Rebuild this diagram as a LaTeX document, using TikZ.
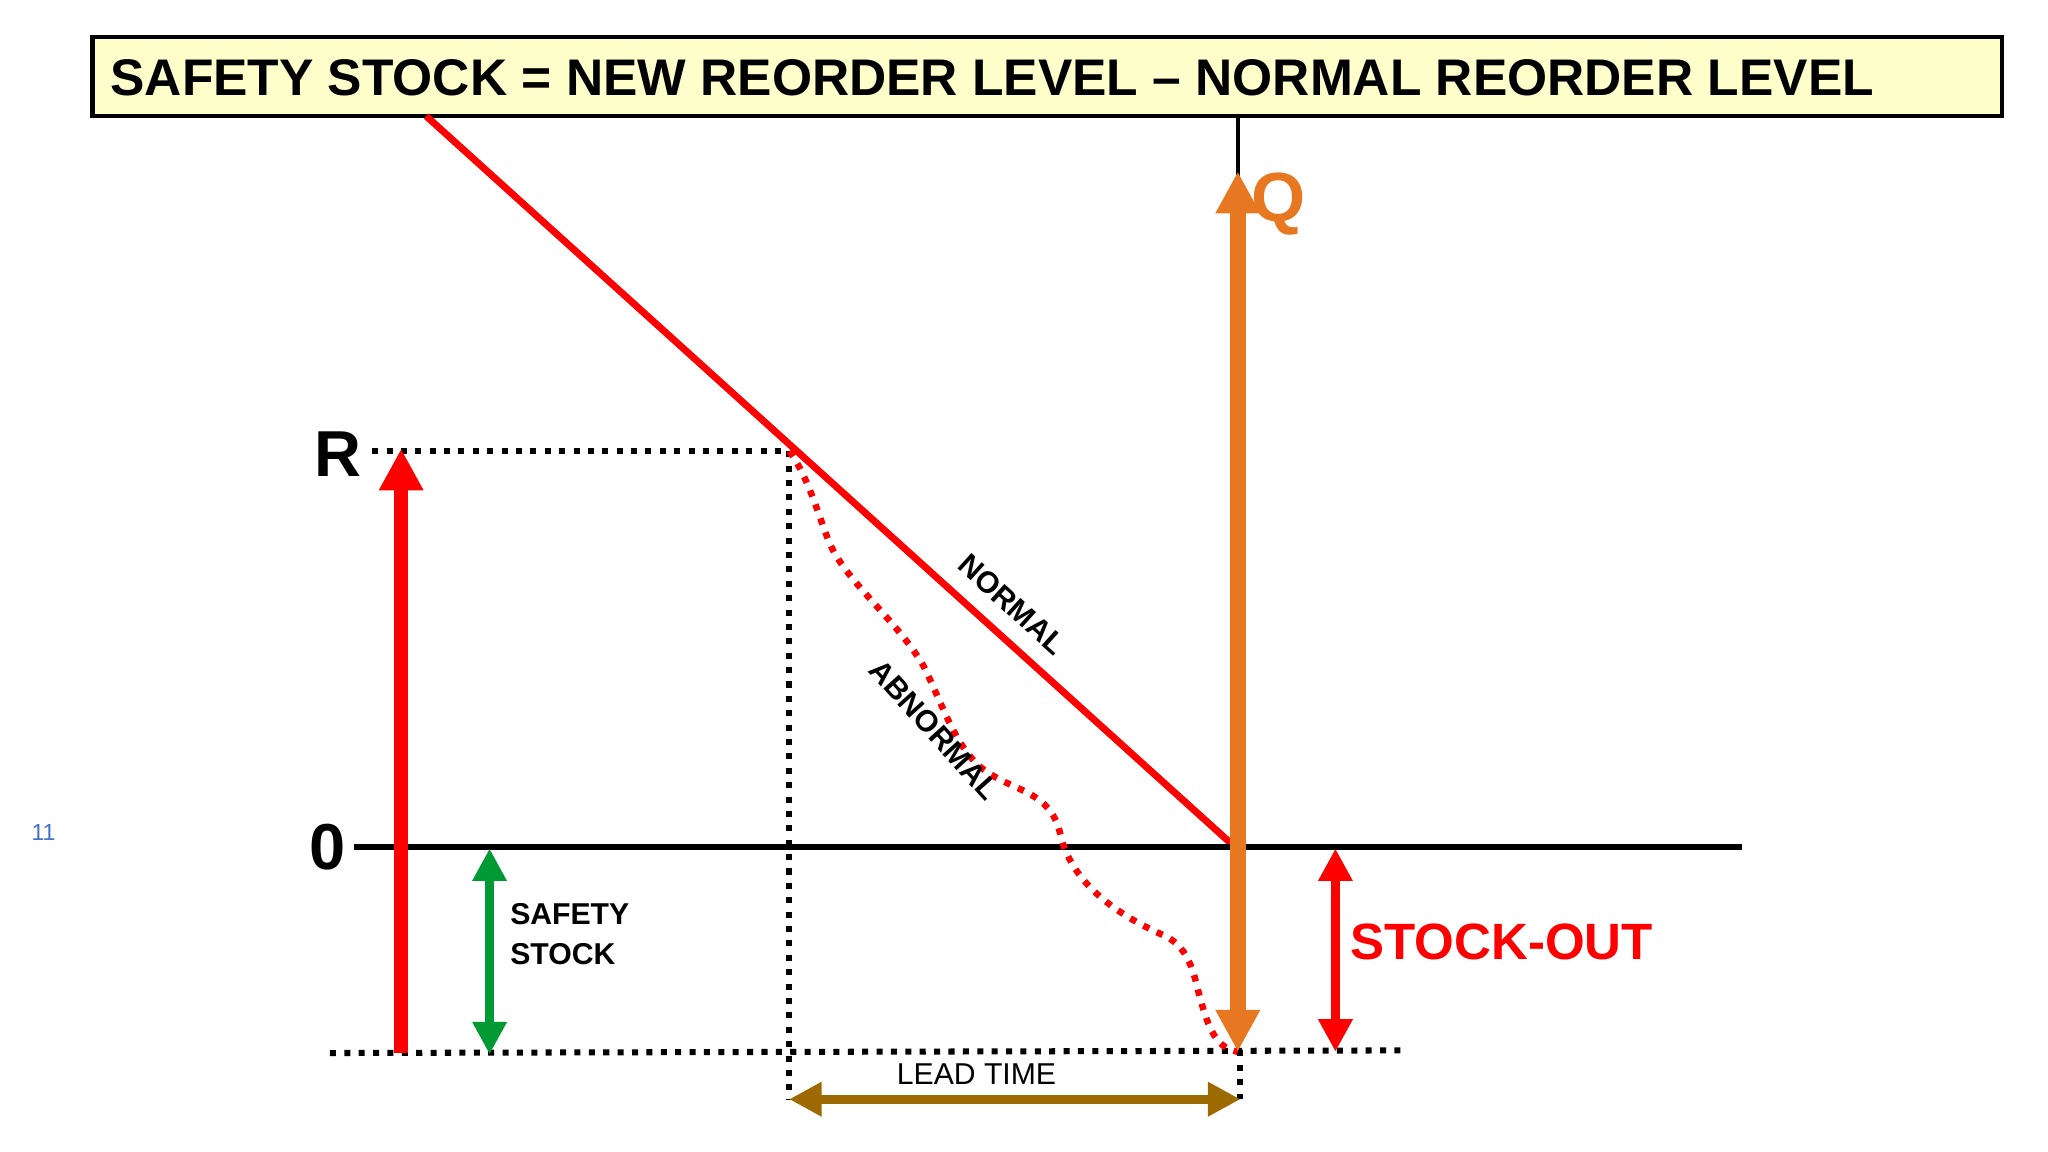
\documentclass[tikz,border=0pt]{standalone}
\usepackage{fontspec}
\setmainfont{Liberation Sans}
\usetikzlibrary{arrows.meta}
\definecolor{titlebg}{HTML}{FFFFCC}
\definecolor{qorange}{HTML}{E87722}
\definecolor{sred}{HTML}{FF0000}
\definecolor{sgreen}{HTML}{009933}
\definecolor{lbrown}{HTML}{9C6A00}
\definecolor{pgblue}{HTML}{4472C4}
\tikzset{
  dots/.style={black,line width=1.3pt,dash pattern=on 1.3pt off 1.8pt},
  smallarr/.style={line width=2pt,{Triangle[length=7pt,width=7pt]}-{Triangle[length=7pt,width=7pt]}},
}
\begin{document}
\begin{tikzpicture}[x=0.01cm,y=-0.01cm]
\useasboundingbox (0,0) rectangle (1552,873);
% title
\draw[line width=1pt,fill=titlebg] (70,28) rectangle (1517,88);
\node[anchor=west,font=\bfseries\fontsize{11.1}{13}\selectfont,inner sep=0] (tt) at (83,59) {SAFETY STOCK = NEW REORDER LEVEL – NORMAL REORDER LEVEL};
% coordinates
\coordinate (ls) at (323,88);
\coordinate (le) at (936,642);
\coordinate (rp) at (598,342);
\coordinate (qt) at (938,88);
\coordinate (qa) at (938,130);
\coordinate (qb) at (938,797);
% normal line
\draw[sred,line width=1.5pt] (ls) -- (le);
\draw[black,line width=0.8pt] (qt) -- (938,135);
% axis
\node[font=\bfseries\fontsize{14}{17}\selectfont] (zero) at (248,642) {0};
\draw[line width=1.3pt] (268,642) coordinate (a0) -- (1320,642) coordinate (a1);
% R
\node[font=\bfseries\fontsize{14}{17}\selectfont] (R) at (256,344) {R};
\draw[dots] (282,342) coordinate (rl) -- (rp);
\draw[dots] (rp) -- (598,833) coordinate (lt1);
\draw[dots] (250,798) coordinate (b0) -- (1062,796) coordinate (b1);
\draw[dots] (940,796) -- (940,833) coordinate (lt2);
\draw[sred,line width=3pt,-{Triangle[length=9pt,width=9pt]}] (304,798) -- (304,340);
% abnormal curve
\draw[sred,line width=1.4pt,dash pattern=on 1.4pt off 1.8pt] (rp)
 .. controls (612,360) and (620,390) .. (628,410)
 .. controls (640,440) and (680,470) .. (700,505)
 .. controls (715,535) and (725,570) .. (748,585)
 .. controls (770,600) and (795,600) .. (803,630)
 .. controls (810,665) and (840,690) .. (880,708)
 .. controls (905,718) and (905,745) .. (912,765)
 .. controls (918,785) and (925,795) .. (qb);
% Q arrow
\draw[qorange,line width=3.5pt,{Triangle[length=9pt,width=9pt]}-{Triangle[length=9pt,width=9pt]}] (qb) -- (qa);
\node[font=\bfseries\fontsize{15}{18}\selectfont,text=qorange] (Q) at (969,155) {Q};
% labels on lines
\node[font=\bfseries\fontsize{6.5}{8}\selectfont,rotate=-42] (nl) at (767,458) {NORMAL};
\node[font=\bfseries\fontsize{6.5}{8}\selectfont,rotate=-48] (al) at (708,553) {ABNORMAL};
% safety stock
\draw[sgreen,smallarr] (371,643) coordinate (g0) -- (371,799) coordinate (g1);
\node[anchor=north west,align=left,font=\bfseries\fontsize{6.5}{8.5}\selectfont,inner sep=0] (ss) at (386,684) {SAFETY\\STOCK};
% stock out
\draw[sred,smallarr] (1012,643) coordinate (s0) -- (1012,797) coordinate (s1);
\node[font=\bfseries\fontsize{11}{13}\selectfont,text=sred] (so) at (1138,714) {STOCK-OUT};
% lead time
\draw[lbrown,smallarr] (lt1) -- (lt2);
\node[font=\fontsize{6.5}{8}\selectfont] (lead) at (740,814) {LEAD TIME};
\node[font=\fontsize{5}{6}\selectfont,text=pgblue] (pg) at (33,631) {11};
\end{tikzpicture}
\end{document}
